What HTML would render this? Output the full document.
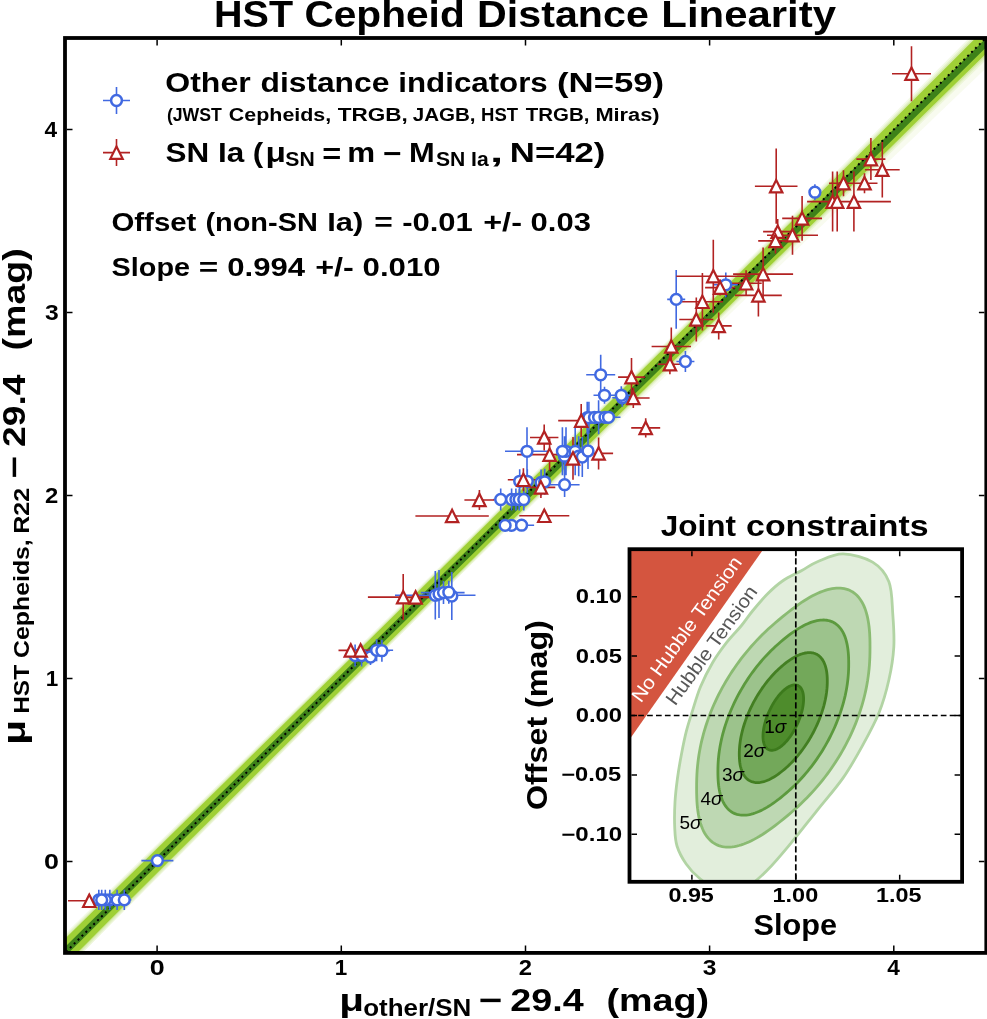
<!DOCTYPE html><html><head><meta charset="utf-8"><style>html,body{margin:0;padding:0;background:#fff;overflow:hidden}svg{display:block;will-change:transform}</style></head><body><svg width="987" height="1019" viewBox="0 0 987 1019" font-family='"Liberation Sans", sans-serif'>
<defs><clipPath id="pc"><rect x="65" y="38" width="921.3" height="914.9"/></clipPath><clipPath id="ic"><rect x="629.5" y="549.2" width="332.6" height="332.6"/></clipPath></defs>
<rect width="987" height="1019" fill="#fff"/>
<g clip-path="url(#pc)">
<path d="M64.21 971.20L87.85 947.41L111.51 923.62L135.18 899.84L158.87 876.05L182.58 852.26L206.30 828.47L230.04 804.69L253.81 780.90L277.59 757.11L301.40 733.32L325.23 709.54L349.09 685.75L372.97 661.96L396.88 638.17L420.81 614.39L444.78 590.60L468.80 566.81L493.23 543.02L517.68 519.24L542.17 495.45L566.68 471.66L591.22 447.88L615.79 424.09L640.39 400.30L665.01 376.51L689.66 352.73L714.33 328.94L739.03 305.15L763.75 281.36L788.49 257.58L813.25 233.79L838.03 210.00L862.83 186.21L887.65 162.43L912.48 138.64L937.33 114.85L962.19 91.06L987.07 67.28L1011.96 43.49L1036.86 19.70L994.02 19.70L970.19 43.49L946.35 67.28L922.50 91.06L898.65 114.85L874.79 138.64L850.92 162.43L827.03 186.21L803.14 210.00L779.24 233.79L755.32 257.58L731.40 281.36L707.46 305.15L683.51 328.94L659.54 352.73L635.57 376.51L611.58 400.30L587.58 424.09L563.56 447.88L539.53 471.66L515.49 495.45L491.43 519.24L467.36 543.02L443.28 566.81L419.18 590.60L395.07 614.39L370.94 638.17L346.81 661.96L322.66 685.75L298.50 709.54L274.32 733.32L250.14 757.11L225.94 780.90L201.73 804.69L177.52 828.47L153.29 852.26L129.05 876.05L104.80 899.84L80.55 923.62L56.29 947.41L32.02 971.20Z" fill="#96cb23" fill-opacity="0.07"/>
<path d="M64.21 971.20L87.85 947.41L111.51 923.62L135.18 899.84L158.87 876.05L182.58 852.26L206.30 828.47L230.04 804.69L253.81 780.90L277.59 757.11L301.40 733.32L325.23 709.54L349.09 685.75L372.97 661.96L396.88 638.17L420.81 614.39L444.78 590.60L468.77 566.81L492.79 543.02L516.84 519.24L540.92 495.45L565.03 471.66L589.17 447.88L613.34 424.09L637.53 400.30L661.75 376.51L686.00 352.73L710.27 328.94L734.56 305.15L758.88 281.36L783.21 257.58L807.57 233.79L831.95 210.00L856.35 186.21L880.76 162.43L905.19 138.64L929.63 114.85L954.09 91.06L978.57 67.28L1003.05 43.49L1027.55 19.70L987.23 19.70L963.63 43.49L940.01 67.28L916.39 91.06L892.75 114.85L869.09 138.64L845.42 162.43L821.73 186.21L798.03 210.00L774.31 233.79L750.57 257.58L726.80 281.36L703.02 305.15L679.21 328.94L655.38 352.73L631.53 376.51L607.65 400.30L583.74 424.09L559.81 447.88L535.85 471.66L511.86 495.45L487.84 519.24L463.79 543.02L439.71 566.81L415.60 590.60L391.47 614.39L367.30 638.17L343.11 661.96L318.89 685.75L294.65 709.54L270.38 733.32L246.09 757.11L221.77 780.90L197.44 804.69L173.08 828.47L148.70 852.26L124.31 876.05L99.90 899.84L75.47 923.62L51.03 947.41L26.57 971.20Z" fill="#96cb23" fill-opacity="0.11"/>
<path d="M62.12 971.20L85.83 947.41L109.54 923.62L133.27 899.84L157.01 876.05L180.77 852.26L204.54 828.47L228.33 804.69L252.13 780.90L275.96 757.11L299.80 733.32L323.66 709.54L347.54 685.75L371.44 661.96L395.37 638.17L419.32 614.39L443.29 590.60L467.28 566.81L491.30 543.02L515.34 519.24L539.41 495.45L563.50 471.66L587.61 447.88L611.75 424.09L635.91 400.30L660.09 376.51L684.29 352.73L708.52 328.94L732.76 305.15L757.03 281.36L781.31 257.58L805.61 233.79L829.93 210.00L854.26 186.21L878.61 162.43L902.97 138.64L927.34 114.85L951.73 91.06L976.13 67.28L1000.54 43.49L1024.96 19.70L989.82 19.70L966.14 43.49L942.45 67.28L918.75 91.06L895.04 114.85L871.31 138.64L847.57 162.43L823.82 186.21L800.05 210.00L776.27 233.79L752.47 257.58L728.65 281.36L704.82 305.15L680.96 328.94L657.09 352.73L633.19 376.51L609.27 400.30L585.33 424.09L561.37 447.88L537.38 471.66L513.37 495.45L489.34 519.24L465.28 543.02L441.20 566.81L417.09 590.60L392.96 614.39L368.81 638.17L344.64 661.96L320.44 685.75L296.22 709.54L271.98 733.32L247.72 757.11L223.45 780.90L199.15 804.69L174.84 828.47L150.51 852.26L126.17 876.05L101.81 899.84L77.44 923.62L53.05 947.41L28.66 971.20Z" fill="#96cb23" fill-opacity="0.14"/>
<path d="M60.39 971.20L84.16 947.41L107.95 923.62L131.74 899.84L155.55 876.05L179.36 852.26L203.19 828.47L227.04 804.69L250.89 780.90L274.76 757.11L298.64 733.32L322.54 709.54L346.46 685.75L370.39 661.96L394.34 638.17L418.30 614.39L442.28 590.60L466.29 566.81L490.30 543.02L514.34 519.24L538.40 495.45L562.47 471.66L586.56 447.88L610.67 424.09L634.80 400.30L658.94 376.51L683.10 352.73L707.28 328.94L731.47 305.15L755.68 281.36L779.91 257.58L804.14 233.79L828.40 210.00L852.66 186.21L876.94 162.43L901.23 138.64L925.53 114.85L949.84 91.06L974.16 67.28L998.49 43.49L1022.83 19.70L991.95 19.70L968.19 43.49L944.42 67.28L920.64 91.06L896.85 114.85L873.05 138.64L849.24 162.43L825.42 186.21L801.58 210.00L777.74 233.79L753.87 257.58L730.00 281.36L706.11 305.15L682.20 328.94L658.28 352.73L634.34 376.51L610.38 400.30L586.41 424.09L562.42 447.88L538.41 471.66L514.38 495.45L490.34 519.24L466.28 543.02L442.19 566.81L418.10 590.60L393.98 614.39L369.84 638.17L345.69 661.96L321.52 685.75L297.34 709.54L273.14 733.32L248.92 757.11L224.69 780.90L200.44 804.69L176.19 828.47L151.92 852.26L127.63 876.05L103.34 899.84L79.03 923.62L54.72 947.41L30.39 971.20Z" fill="#96cb23" fill-opacity="0.17"/>
<path d="M58.76 971.20L82.59 947.41L106.43 923.62L130.28 899.84L154.13 876.05L177.99 852.26L201.86 828.47L225.75 804.69L249.64 780.90L273.54 757.11L297.46 733.32L321.38 709.54L345.32 685.75L369.27 661.96L393.24 638.17L417.21 614.39L441.20 590.60L465.20 566.81L489.22 543.02L513.25 519.24L537.29 495.45L561.35 471.66L585.42 447.88L609.50 424.09L633.60 400.30L657.71 376.51L681.84 352.73L705.97 328.94L730.12 305.15L754.28 281.36L778.46 257.58L802.64 233.79L826.84 210.00L851.05 186.21L875.26 162.43L899.49 138.64L923.73 114.85L947.98 91.06L972.23 67.28L996.49 43.49L1020.76 19.70L994.02 19.70L970.19 43.49L946.35 67.28L922.50 91.06L898.65 114.85L874.79 138.64L850.92 162.43L827.03 186.21L803.14 210.00L779.24 233.79L755.32 257.58L731.40 281.36L707.46 305.15L683.51 328.94L659.54 352.73L635.57 376.51L611.58 400.30L587.58 424.09L563.56 447.88L539.53 471.66L515.49 495.45L491.43 519.24L467.36 543.02L443.28 566.81L419.18 590.60L395.07 614.39L370.94 638.17L346.81 661.96L322.66 685.75L298.50 709.54L274.32 733.32L250.14 757.11L225.94 780.90L201.73 804.69L177.52 828.47L153.29 852.26L129.05 876.05L104.80 899.84L80.55 923.62L56.29 947.41L32.02 971.20Z" fill="#96cb23" fill-opacity="0.85"/>
<path d="M49.94 971.20L74.04 947.41L98.15 923.62L122.25 899.84L146.36 876.05L170.46 852.26L194.57 828.47L218.67 804.69L242.77 780.90L266.88 757.11L290.98 733.32L315.09 709.54L339.19 685.75L363.30 661.96L387.40 638.17L411.51 614.39L435.61 590.60L459.72 566.81L483.82 543.02L507.93 519.24L532.03 495.45L556.13 471.66L580.24 447.88L604.34 424.09L628.45 400.30L652.55 376.51L676.66 352.73L700.76 328.94L724.87 305.15L748.97 281.36L773.08 257.58L797.18 233.79L821.29 210.00L845.39 186.21L869.49 162.43L893.60 138.64L917.70 114.85L941.81 91.06L965.91 67.28L990.02 43.49L1014.12 19.70L1004.72 19.70L980.62 43.49L956.51 67.28L932.41 91.06L908.30 114.85L884.20 138.64L860.09 162.43L835.99 186.21L811.89 210.00L787.78 233.79L763.68 257.58L739.57 281.36L715.47 305.15L691.36 328.94L667.26 352.73L643.15 376.51L619.05 400.30L594.94 424.09L570.84 447.88L546.73 471.66L522.63 495.45L498.53 519.24L474.42 543.02L450.32 566.81L426.21 590.60L402.11 614.39L378.00 638.17L353.90 661.96L329.79 685.75L305.69 709.54L281.58 733.32L257.48 757.11L233.37 780.90L209.27 804.69L185.17 828.47L161.06 852.26L136.96 876.05L112.85 899.84L88.75 923.62L64.64 947.41L40.54 971.20Z" fill="#3e8219"/>
<line x1="46.58" y1="971.20" x2="1004.32" y2="19.70" stroke="#000" stroke-width="2" stroke-dasharray="2 3.5"/>
<path d="M141.4 860.6H173.4M104.8 899.9H114.8M109.8 889.7V910.1M93.8 899.9H103.8M98.8 889.7V910.1M100.3 899.9H110.3M105.3 889.7V910.1M96.7 899.9H106.7M101.7 889.7V910.1M112.1 899.9H122.1M117.1 889.7V910.1M117.3 899.9H131.3M124.3 889.7V910.1M349.1 655.5H361.1M355.1 644.5V666.5M355.6 655.5H367.6M361.6 644.5V666.5M364.5 657.0H376.5M370.5 649.0V665.0M360.1 650.3H393.1M376.6 639.3V661.3M373.9 650.7H389.9M381.9 639.7V661.7M395.0 595.3H475.5M435.3 571.0V619.6M431.0 594.0H447.0M439.0 570.0V618.0M420.8 592.6H464.6M443.5 581.0V604.0M445.8 596.0H457.8M451.8 572.0V620.0M442.8 592.2H454.8M448.8 580.7V603.7M493.2 499.5H508.2M500.7 488.5V510.5M506.6 499.5H516.6M511.6 488.5V510.5M510.9 499.5H520.9M515.9 488.5V510.5M514.2 499.5H524.2M519.2 488.5V510.5M518.8 499.5H528.8M523.8 488.5V510.5M507.6 525.4H515.6M501.1 525.4H509.1M509.1 525.2H534.1M513.7 481.3H525.7M519.7 469.3V493.3M521.3 481.3H533.3M527.3 469.3V493.3M505.0 451.3H549.0M527.0 427.3V475.3M535.1 482.5H547.1M541.1 469.5V495.5M538.7 481.8H550.7M544.7 468.8V494.8M549.6 484.7H579.6M564.6 472.4V497.0M558.5 456.2H570.5M564.5 436.2V476.2M560.0 451.3H572.0M566.0 427.3V475.3M556.4 451.3H568.4M562.4 427.3V475.3M569.2 451.3H581.2M575.2 427.3V475.3M572.7 456.2H584.7M578.7 436.2V476.2M576.3 457.0H588.3M582.3 437.0V477.0M582.0 451.0H594.0M588.0 433.0V469.0M581.2 417.7H593.2M587.2 401.7V433.7M582.9 417.7H594.9M588.9 401.7V433.7M588.5 417.5H600.5M594.5 412.5V422.5M592.6 417.3H604.6M598.6 400.3V434.3M599.0 417.3H611.0M605.0 414.3V420.3M596.5 417.3H620.5M608.5 414.3V420.3M586.2 374.8H615.2M600.7 354.8V394.8M593.5 395.3H615.5M604.5 386.8V403.8M612.3 397.8H632.3M622.3 388.8V406.8M606.3 395.3H636.3M621.3 386.3V404.3M676.4 361.5H694.4M685.4 351.0V372.0M667.2 299.4H685.2M676.2 270.0V328.8M713.8 284.8H737.8M725.8 272.4V297.2M814.9 184.2V200.2" stroke="#4169e1" stroke-width="1.6" fill="none"/>
<path d="M68.0 900.8H110.6M89.3 897.8V903.8M338.5 650.4H363.1M350.8 647.4V653.4M348.6 650.4H372.6M360.6 647.4V653.4M367.9 597.1H438.5M403.2 574.1V620.1M401.1 597.4H430.1M415.6 593.4V601.4M415.4 516.0H488.8M452.1 513.0V519.0M464.4 500.0H494.4M479.4 490.0V510.0M507.8 479.8H539.0M523.4 468.3V491.3M530.0 437.5H558.4M544.2 424.5V450.5M517.0 454.6H582.2M549.6 438.6V470.6M526.5 487.4H555.3M540.9 476.8V498.0M519.3 515.8H569.3M544.3 512.8V518.8M563.0 458.4H583.0M573.0 437.1V479.7M584.1 453.4H613.1M598.6 437.4V469.4M558.2 420.6H604.2M581.2 404.1V437.1M618.1 377.1H644.9M631.5 358.1V396.1M617.0 398.0H649.6M633.3 388.0V408.0M631.2 427.9H660.2M645.7 418.3V437.5M651.6 346.5H691.0M671.3 327.5V365.5M657.9 364.2H681.9M669.9 354.2V374.2M681.9 301.8H722.9M702.4 273.1V330.5M679.3 319.5H713.3M696.3 297.5V341.5M705.7 325.9H731.7M718.7 312.4V339.4M676.3 276.2H750.3M713.3 239.7V312.7M705.1 287.6H735.1M720.1 279.6V295.6M730.5 283.3H761.7M746.1 270.3V296.3M733.1 274.1H793.1M763.1 247.5V300.7M735.0 295.4H781.8M758.4 274.4V316.4M754.9 186.2H797.5M776.2 148.6V223.8M763.1 231.6H792.3M777.7 218.9V244.3M758.2 240.9H792.8M775.5 228.2V253.6M767.0 235.2H818.0M792.5 215.7V254.7M782.2 218.4H822.0M802.1 196.1V240.7M807.1 201.6H858.1M832.6 171.6V231.6M827.2 201.6H847.2M837.2 171.6V231.6M816.9 201.6H890.9M853.9 171.6V231.6M829.0 183.2H858.0M843.5 170.2V196.2M851.5 183.2H877.5M864.5 173.2V193.2M856.4 159.1H885.4M870.9 138.1V180.1M864.9 169.7H899.7M882.3 142.0V197.4M892.0 73.7H931.0M911.5 46.2V101.2" stroke="#b22222" stroke-width="1.6" fill="none"/>
<g fill="#fff" stroke="#4169e1" stroke-width="2.5" stroke-linejoin="miter"><circle cx="157.4" cy="860.6" r="5.4"/><circle cx="109.8" cy="899.9" r="5.4"/><circle cx="98.8" cy="899.9" r="5.4"/><circle cx="105.3" cy="899.9" r="5.4"/><circle cx="101.7" cy="899.9" r="5.4"/><circle cx="117.1" cy="899.9" r="5.4"/><circle cx="124.3" cy="899.9" r="5.4"/><circle cx="355.1" cy="655.5" r="5.4"/><circle cx="361.6" cy="655.5" r="5.4"/><circle cx="370.5" cy="657.0" r="5.4"/><circle cx="376.6" cy="650.3" r="5.4"/><circle cx="381.9" cy="650.7" r="5.4"/><circle cx="435.3" cy="595.3" r="5.4"/><circle cx="439.0" cy="594.0" r="5.4"/><circle cx="443.5" cy="592.6" r="5.4"/><circle cx="451.8" cy="596.0" r="5.4"/><circle cx="448.8" cy="592.2" r="5.4"/><circle cx="500.7" cy="499.5" r="5.4"/><circle cx="511.6" cy="499.5" r="5.4"/><circle cx="515.9" cy="499.5" r="5.4"/><circle cx="519.2" cy="499.5" r="5.4"/><circle cx="523.8" cy="499.5" r="5.4"/><circle cx="511.6" cy="525.4" r="5.4"/><circle cx="505.1" cy="525.4" r="5.4"/><circle cx="521.6" cy="525.2" r="5.4"/><circle cx="519.7" cy="481.3" r="5.4"/><circle cx="527.3" cy="481.3" r="5.4"/><circle cx="527.0" cy="451.3" r="5.4"/><circle cx="541.1" cy="482.5" r="5.4"/><circle cx="544.7" cy="481.8" r="5.4"/><circle cx="564.6" cy="484.7" r="5.4"/><circle cx="564.5" cy="456.2" r="5.4"/><circle cx="566.0" cy="451.3" r="5.4"/><circle cx="562.4" cy="451.3" r="5.4"/><circle cx="575.2" cy="451.3" r="5.4"/><circle cx="578.7" cy="456.2" r="5.4"/><circle cx="582.3" cy="457.0" r="5.4"/><circle cx="588.0" cy="451.0" r="5.4"/><circle cx="587.2" cy="417.7" r="5.4"/><circle cx="588.9" cy="417.7" r="5.4"/><circle cx="594.5" cy="417.5" r="5.4"/><circle cx="598.6" cy="417.3" r="5.4"/><circle cx="605.0" cy="417.3" r="5.4"/><circle cx="608.5" cy="417.3" r="5.4"/><circle cx="600.7" cy="374.8" r="5.4"/><circle cx="604.5" cy="395.3" r="5.4"/><circle cx="622.3" cy="397.8" r="5.4"/><circle cx="621.3" cy="395.3" r="5.4"/><circle cx="685.4" cy="361.5" r="5.4"/><circle cx="676.2" cy="299.4" r="5.4"/><circle cx="725.8" cy="284.8" r="5.4"/><circle cx="814.9" cy="192.2" r="5.4"/></g>
<g fill="#fff" stroke="#b22222" stroke-width="2.2" stroke-linejoin="miter"><path d="M89.3 894.6L83.1 907.0H95.5Z"/><path d="M350.8 644.2L344.6 656.6H357.0Z"/><path d="M360.6 644.2L354.4 656.6H366.8Z"/><path d="M403.2 590.9L397.0 603.3H409.4Z"/><path d="M415.6 591.2L409.4 603.6H421.8Z"/><path d="M452.1 509.8L445.9 522.2H458.3Z"/><path d="M479.4 493.8L473.2 506.2H485.6Z"/><path d="M523.4 473.6L517.2 486.0H529.6Z"/><path d="M544.2 431.3L538.0 443.7H550.4Z"/><path d="M549.6 448.4L543.4 460.8H555.8Z"/><path d="M540.9 481.2L534.7 493.6H547.1Z"/><path d="M544.3 509.6L538.1 522.0H550.5Z"/><path d="M573.0 452.2L566.8 464.6H579.2Z"/><path d="M598.6 447.2L592.4 459.6H604.8Z"/><path d="M581.2 414.4L575.0 426.8H587.4Z"/><path d="M631.5 370.9L625.3 383.3H637.7Z"/><path d="M633.3 391.8L627.1 404.2H639.5Z"/><path d="M645.7 421.7L639.5 434.1H651.9Z"/><path d="M671.3 340.3L665.1 352.7H677.5Z"/><path d="M669.9 358.0L663.7 370.4H676.1Z"/><path d="M702.4 295.6L696.2 308.0H708.6Z"/><path d="M696.3 313.3L690.1 325.7H702.5Z"/><path d="M718.7 319.7L712.5 332.1H724.9Z"/><path d="M713.3 270.0L707.1 282.4H719.5Z"/><path d="M720.1 281.4L713.9 293.8H726.3Z"/><path d="M746.1 277.1L739.9 289.5H752.3Z"/><path d="M763.1 267.9L756.9 280.3H769.3Z"/><path d="M758.4 289.2L752.2 301.6H764.6Z"/><path d="M776.2 180.0L770.0 192.4H782.4Z"/><path d="M777.7 225.4L771.5 237.8H783.9Z"/><path d="M775.5 234.7L769.3 247.1H781.7Z"/><path d="M792.5 229.0L786.3 241.4H798.7Z"/><path d="M802.1 212.2L795.9 224.6H808.3Z"/><path d="M832.6 195.4L826.4 207.8H838.8Z"/><path d="M837.2 195.4L831.0 207.8H843.4Z"/><path d="M853.9 195.4L847.7 207.8H860.1Z"/><path d="M843.5 177.0L837.3 189.4H849.7Z"/><path d="M864.5 177.0L858.3 189.4H870.7Z"/><path d="M870.9 152.9L864.7 165.3H877.1Z"/><path d="M882.3 163.5L876.1 175.9H888.5Z"/><path d="M911.5 67.5L905.3 79.9H917.7Z"/></g>
</g>
<path d="M103 100.5H130M116.5 87V114" stroke="#4169e1" stroke-width="1.6"/><circle cx="116.5" cy="100.5" r="5.4" fill="#fff" stroke="#4169e1" stroke-width="2.5"/>
<path d="M103 152.6H130M116.5 139V166" stroke="#b22222" stroke-width="1.6"/><path d="M116.5 146.4L110.3 158.79999999999998H122.7Z" fill="#fff" stroke="#b22222" stroke-width="2.2"/>
<text x="165.30" y="92.2" font-size="27.8" font-weight="bold" textLength="85.42" lengthAdjust="spacingAndGlyphs">Other</text>
<text x="260.50" y="92.2" font-size="27.8" font-weight="bold" textLength="128.83" lengthAdjust="spacingAndGlyphs">distance</text>
<text x="398.30" y="92.2" font-size="27.8" font-weight="bold" textLength="149.47" lengthAdjust="spacingAndGlyphs">indicators</text>
<text x="557.00" y="92.2" font-size="27.8" font-weight="bold" textLength="107.13" lengthAdjust="spacingAndGlyphs">(N=59)</text>
<text x="166.90" y="120.5" font-size="18.7" font-weight="bold" textLength="55.02" lengthAdjust="spacingAndGlyphs">(JWST</text>
<text x="228.80" y="120.5" font-size="18.7" font-weight="bold" textLength="102.45" lengthAdjust="spacingAndGlyphs">Cepheids,</text>
<text x="337.80" y="120.5" font-size="18.7" font-weight="bold" textLength="70.04" lengthAdjust="spacingAndGlyphs">TRGB,</text>
<text x="412.70" y="120.5" font-size="18.7" font-weight="bold" textLength="62.90" lengthAdjust="spacingAndGlyphs">JAGB,</text>
<text x="481.10" y="120.5" font-size="18.7" font-weight="bold" textLength="37.04" lengthAdjust="spacingAndGlyphs">HST</text>
<text x="525.80" y="120.5" font-size="18.7" font-weight="bold" textLength="63.63" lengthAdjust="spacingAndGlyphs">TRGB,</text>
<text x="595.40" y="120.5" font-size="18.7" font-weight="bold" textLength="64.24" lengthAdjust="spacingAndGlyphs">Miras)</text>
<text x="165.50" y="161.8" font-size="27.8" font-weight="bold" textLength="97.82" lengthAdjust="spacingAndGlyphs">SN Ia (</text>
<text x="265.50" y="161.8" font-size="27.8" font-weight="bold" textLength="20.46" lengthAdjust="spacingAndGlyphs">μ</text>
<text x="347.30" y="161.8" font-size="27.8" font-weight="bold" textLength="27.89" lengthAdjust="spacingAndGlyphs">m</text>
<text x="409.10" y="161.8" font-size="27.8" font-weight="bold" textLength="25.72" lengthAdjust="spacingAndGlyphs">M</text>
<text x="490.10" y="161.8" font-size="27.8" font-weight="bold" textLength="13.19" lengthAdjust="spacingAndGlyphs">,</text>
<text x="509.80" y="161.8" font-size="27.8" font-weight="bold" textLength="95.56" lengthAdjust="spacingAndGlyphs">N=42)</text>
<text x="322.30" y="163.4" font-size="27.8" font-weight="bold" textLength="19.00" lengthAdjust="spacingAndGlyphs">=</text>
<text x="383.00" y="163.2" font-size="27.8" font-weight="bold" textLength="18.54" lengthAdjust="spacingAndGlyphs">−</text>
<text x="285.30" y="166.0" font-size="20.3" font-weight="bold" textLength="29.39" lengthAdjust="spacingAndGlyphs">SN</text>
<text x="435.90" y="166.0" font-size="20.3" font-weight="bold" textLength="52.82" lengthAdjust="spacingAndGlyphs">SN Ia</text>
<text x="111.40" y="230.9" font-size="25.7" font-weight="bold" textLength="85.03" lengthAdjust="spacingAndGlyphs">Offset</text>
<text x="205.40" y="230.9" font-size="25.7" font-weight="bold" textLength="112.47" lengthAdjust="spacingAndGlyphs">(non-SN</text>
<text x="327.20" y="230.9" font-size="25.7" font-weight="bold" textLength="35.98" lengthAdjust="spacingAndGlyphs">Ia)</text>
<text x="374.20" y="230.9" font-size="25.7" font-weight="bold" textLength="18.55" lengthAdjust="spacingAndGlyphs">=</text>
<text x="402.20" y="230.9" font-size="25.7" font-weight="bold" textLength="70.65" lengthAdjust="spacingAndGlyphs">-0.01</text>
<text x="483.20" y="230.9" font-size="25.7" font-weight="bold" textLength="38.76" lengthAdjust="spacingAndGlyphs">+/-</text>
<text x="530.60" y="230.9" font-size="25.7" font-weight="bold" textLength="60.28" lengthAdjust="spacingAndGlyphs">0.03</text>
<text x="111.60" y="276.0" font-size="25.7" font-weight="bold" textLength="78.47" lengthAdjust="spacingAndGlyphs">Slope</text>
<text x="198.70" y="276.0" font-size="25.7" font-weight="bold" textLength="19.52" lengthAdjust="spacingAndGlyphs">=</text>
<text x="227.30" y="276.0" font-size="25.7" font-weight="bold" textLength="77.83" lengthAdjust="spacingAndGlyphs">0.994</text>
<text x="315.20" y="276.0" font-size="25.7" font-weight="bold" textLength="38.69" lengthAdjust="spacingAndGlyphs">+/-</text>
<text x="362.60" y="276.0" font-size="25.7" font-weight="bold" textLength="78.05" lengthAdjust="spacingAndGlyphs">0.010</text>
<text x="214.10" y="26.5" font-size="37.6" font-weight="bold" textLength="78.96" lengthAdjust="spacingAndGlyphs">HST</text>
<text x="304.40" y="26.5" font-size="37.6" font-weight="bold" textLength="160.34" lengthAdjust="spacingAndGlyphs">Cepheid</text>
<text x="477.10" y="26.5" font-size="37.6" font-weight="bold" textLength="171.72" lengthAdjust="spacingAndGlyphs">Distance</text>
<text x="661.30" y="26.5" font-size="37.6" font-weight="bold" textLength="174.67" lengthAdjust="spacingAndGlyphs">Linearity</text>
<path d="M157.1 951V945.5M157.1 40V45.5M67 861.4H72.5M984.4 861.4H978.9M341.3 951V945.5M341.3 40V45.5M67 678.4H72.5M984.4 678.4H978.9M525.5 951V945.5M525.5 40V45.5M67 495.4H72.5M984.4 495.4H978.9M709.6 951V945.5M709.6 40V45.5M67 312.5H72.5M984.4 312.5H978.9M893.8 951V945.5M893.8 40V45.5M67 129.5H72.5M984.4 129.5H978.9" stroke="#000" stroke-width="1.5"/>
<rect x="65" y="38" width="921.3" height="914.9" fill="none" stroke="#000" stroke-width="3.8"/>
<text x="149.89" y="975.2" font-size="21.8" font-weight="bold" textLength="14.93" lengthAdjust="spacingAndGlyphs">0</text>
<text x="44.10" y="869.0" font-size="21.8" font-weight="bold" textLength="14.93" lengthAdjust="spacingAndGlyphs">0</text>
<text x="334.87" y="975.2" font-size="21.8" font-weight="bold" textLength="12.49" lengthAdjust="spacingAndGlyphs">1</text>
<text x="45.70" y="686.0" font-size="21.8" font-weight="bold" textLength="12.49" lengthAdjust="spacingAndGlyphs">1</text>
<text x="518.70" y="975.2" font-size="21.8" font-weight="bold" textLength="13.25" lengthAdjust="spacingAndGlyphs">2</text>
<text x="45.00" y="503.1" font-size="21.8" font-weight="bold" textLength="13.25" lengthAdjust="spacingAndGlyphs">2</text>
<text x="702.83" y="975.2" font-size="21.8" font-weight="bold" textLength="13.72" lengthAdjust="spacingAndGlyphs">3</text>
<text x="44.90" y="320.1" font-size="21.8" font-weight="bold" textLength="13.72" lengthAdjust="spacingAndGlyphs">3</text>
<text x="887.36" y="975.2" font-size="21.8" font-weight="bold" textLength="12.60" lengthAdjust="spacingAndGlyphs">4</text>
<text x="44.60" y="137.1" font-size="21.8" font-weight="bold" textLength="12.60" lengthAdjust="spacingAndGlyphs">4</text>
<text x="339.30" y="1011.0" font-size="31.9" font-weight="bold" textLength="24.77" lengthAdjust="spacingAndGlyphs">μ</text>
<text x="479.10" y="1011.0" font-size="31.9" font-weight="bold" textLength="23.59" lengthAdjust="spacingAndGlyphs">−</text>
<text x="510.30" y="1011.0" font-size="31.9" font-weight="bold" textLength="73.42" lengthAdjust="spacingAndGlyphs">29.4</text>
<text x="606.50" y="1011.0" font-size="31.9" font-weight="bold" textLength="102.55" lengthAdjust="spacingAndGlyphs">(mag)</text>
<text x="363.20" y="1016.0" font-size="23" font-weight="bold" textLength="108.09" lengthAdjust="spacingAndGlyphs">other/SN</text>
<g transform="rotate(-90)">
<text x="-744.70" y="24.5" font-size="31.9" font-weight="bold" textLength="24.77" lengthAdjust="spacingAndGlyphs">μ</text>
<text x="-478.30" y="24.5" font-size="31.9" font-weight="bold" textLength="22.67" lengthAdjust="spacingAndGlyphs">−</text>
<text x="-447.00" y="24.5" font-size="31.9" font-weight="bold" textLength="72.61" lengthAdjust="spacingAndGlyphs">29.4</text>
<text x="-350.40" y="24.5" font-size="31.9" font-weight="bold" textLength="102.17" lengthAdjust="spacingAndGlyphs">(mag)</text>
<text x="-713.80" y="29.4" font-size="22.5" font-weight="bold" textLength="48.89" lengthAdjust="spacingAndGlyphs">HST</text>
<text x="-657.90" y="29.4" font-size="22.5" font-weight="bold" textLength="118.67" lengthAdjust="spacingAndGlyphs">Cepheids,</text>
<text x="-533.70" y="29.4" font-size="22.5" font-weight="bold" textLength="45.80" lengthAdjust="spacingAndGlyphs">R22</text>
</g>
<rect x="629.5" y="549.2" width="332.6" height="332.6" fill="#fff"/>
<g clip-path="url(#ic)">
<path d="M629.5 549.2H763.3L629.5 739.4Z" fill="#d4553f"/>
<path d="M843.10 553.90C852.20 554.00 864.97 557.47 872.60 562.10C880.23 566.73 885.53 572.98 888.90 581.70C892.27 590.42 891.98 603.50 892.80 614.40C893.62 625.30 894.45 636.20 893.80 647.10C893.15 658.00 891.35 668.90 888.90 679.80C886.45 690.70 883.47 701.60 879.10 712.50C874.73 723.40 868.70 734.30 862.70 745.20C856.70 756.10 850.72 767.00 843.10 777.90C835.48 788.80 825.72 799.70 817.00 810.60C808.28 821.50 798.98 833.48 790.80 843.30C782.62 853.12 775.03 862.38 767.90 869.50C760.77 876.62 755.65 882.08 748.00 886.00C740.35 889.92 730.13 894.33 722.00 893.00C713.87 891.67 705.17 882.83 699.20 878.00C693.23 873.17 689.90 869.33 686.20 864.00C682.50 858.67 678.92 852.17 677.00 846.00C675.08 839.83 675.03 834.33 674.70 827.00C674.37 819.67 674.53 810.17 675.00 802.00C675.47 793.83 676.42 786.00 677.50 778.00C678.58 770.00 680.03 761.77 681.50 754.00C682.97 746.23 684.48 738.55 686.30 731.40C688.12 724.25 690.03 718.53 692.40 711.10C694.77 703.67 697.12 694.90 700.50 686.80C703.88 678.70 708.30 669.93 712.70 662.50C717.10 655.07 722.17 648.28 726.90 642.20C731.63 636.12 736.83 631.20 741.10 626.00C745.37 620.80 748.12 616.33 752.50 611.00C756.88 605.67 762.40 599.00 767.40 594.00C772.40 589.00 776.77 584.92 782.50 581.00C788.23 577.08 795.88 573.75 801.80 570.50C807.72 567.25 811.12 564.27 818.00 561.50C824.88 558.73 834.00 553.80 843.10 553.90Z" fill="#e2eedc" stroke="#b2d4a4" stroke-width="2.8"/>
<path d="M870.00 647.21L869.96 652.58L869.85 656.95L869.67 661.05L869.42 665.01L869.09 668.87L868.69 672.67L868.22 676.42L867.68 680.14L867.06 683.83L866.38 687.50L865.62 691.15L864.79 694.79L863.89 698.41L862.93 702.01L861.89 705.61L860.78 709.19L859.61 712.76L858.37 716.31L857.06 719.85L855.69 723.38L854.25 726.89L852.75 730.38L851.18 733.85L849.55 737.31L847.85 740.74L846.10 744.15L844.28 747.53L842.40 750.89L840.46 754.23L838.46 757.54L836.40 760.82L834.28 764.07L832.10 767.29L829.87 770.47L827.57 773.63L825.22 776.75L822.81 779.84L820.34 782.90L817.81 785.92L815.21 788.91L812.55 791.88L809.83 794.81L807.03 797.72L804.15 800.61L801.18 803.48L798.11 806.36L794.90 809.26L791.52 812.22L787.86 815.32L783.30 819.06L778.74 822.72L775.08 825.57L771.70 828.10L768.49 830.40L765.42 832.52L762.45 834.46L759.57 836.24L756.77 837.88L754.05 839.38L751.39 840.73L748.79 841.95L746.26 843.04L743.79 843.99L741.38 844.82L739.03 845.52L736.73 846.09L734.50 846.53L732.32 846.84L730.20 847.04L728.14 847.10L726.14 847.04L724.20 846.86L722.32 846.55L720.50 846.11L718.75 845.56L717.05 844.88L715.42 844.07L713.85 843.15L712.35 842.10L710.91 840.92L709.54 839.63L708.23 838.21L706.99 836.67L705.82 835.01L704.71 833.22L703.67 831.31L702.71 829.27L701.81 827.11L700.98 824.81L700.22 822.39L699.54 819.84L698.92 817.15L698.38 814.31L697.91 811.32L697.51 808.17L697.18 804.84L696.93 801.30L696.75 797.49L696.64 793.30L696.60 787.99L696.64 782.62L696.75 778.25L696.93 774.15L697.18 770.19L697.51 766.33L697.91 762.53L698.38 758.78L698.92 755.06L699.54 751.37L700.22 747.70L700.98 744.05L701.81 740.41L702.71 736.79L703.67 733.19L704.71 729.59L705.82 726.01L706.99 722.44L708.23 718.89L709.54 715.35L710.91 711.82L712.35 708.31L713.85 704.82L715.42 701.35L717.05 697.89L718.75 694.46L720.50 691.05L722.32 687.67L724.20 684.31L726.14 680.97L728.14 677.66L730.20 674.38L732.32 671.13L734.50 667.91L736.73 664.73L739.03 661.57L741.38 658.45L743.79 655.36L746.26 652.30L748.79 649.28L751.39 646.29L754.05 643.32L756.77 640.39L759.57 637.48L762.45 634.59L765.42 631.72L768.49 628.84L771.70 625.94L775.08 622.98L778.74 619.88L783.30 616.14L787.86 612.48L791.52 609.63L794.90 607.10L798.11 604.80L801.18 602.68L804.15 600.74L807.03 598.96L809.83 597.32L812.55 595.82L815.21 594.47L817.81 593.25L820.34 592.16L822.81 591.21L825.22 590.38L827.57 589.68L829.87 589.11L832.10 588.67L834.28 588.36L836.40 588.16L838.46 588.10L840.46 588.16L842.40 588.34L844.28 588.65L846.10 589.09L847.85 589.64L849.55 590.32L851.18 591.13L852.75 592.05L854.25 593.10L855.69 594.28L857.06 595.57L858.37 596.99L859.61 598.53L860.78 600.19L861.89 601.98L862.93 603.89L863.89 605.93L864.79 608.09L865.62 610.39L866.38 612.81L867.06 615.36L867.68 618.05L868.22 620.89L868.69 623.88L869.09 627.03L869.42 630.36L869.67 633.90L869.85 637.71L869.96 641.90Z" fill="#bed8b3" stroke="#8abb72" stroke-width="2.8"/>
<path d="M848.70 663.55L848.67 666.93L848.58 669.94L848.44 672.86L848.23 675.73L847.97 678.58L847.65 681.42L847.27 684.25L846.83 687.09L846.33 689.92L845.78 692.75L845.18 695.58L844.51 698.42L843.79 701.26L843.02 704.10L842.19 706.94L841.30 709.77L840.37 712.61L839.38 715.44L838.33 718.27L837.24 721.08L836.09 723.89L834.90 726.69L833.66 729.48L832.36 732.25L831.02 735.01L829.64 737.75L828.21 740.48L826.73 743.18L825.21 745.86L823.64 748.52L822.04 751.15L820.39 753.75L818.70 756.33L816.97 758.87L815.20 761.39L813.39 763.87L811.55 766.32L809.66 768.73L807.74 771.11L805.79 773.45L803.79 775.76L801.76 778.03L799.68 780.26L797.57 782.46L795.41 784.63L793.20 786.77L790.93 788.89L788.58 791.01L786.11 793.15L783.30 795.51L780.49 797.80L778.02 799.74L775.67 801.50L773.40 803.13L771.19 804.65L769.03 806.05L766.92 807.34L764.84 808.54L762.81 809.63L760.81 810.62L758.86 811.51L756.94 812.31L755.05 813.01L753.21 813.61L751.40 814.12L749.63 814.52L747.90 814.84L746.21 815.05L744.56 815.17L742.96 815.20L741.39 815.13L739.87 814.96L738.39 814.70L736.96 814.35L735.58 813.90L734.24 813.35L732.94 812.71L731.70 811.98L730.51 811.16L729.36 810.24L728.27 809.23L727.22 808.13L726.23 806.93L725.30 805.65L724.41 804.27L723.58 802.80L722.81 801.25L722.09 799.60L721.42 797.86L720.82 796.03L720.27 794.11L719.77 792.09L719.33 789.98L718.95 787.78L718.63 785.47L718.37 783.06L718.16 780.52L718.02 777.84L717.93 774.98L717.90 771.65L717.93 768.27L718.02 765.26L718.16 762.34L718.37 759.47L718.63 756.62L718.95 753.78L719.33 750.95L719.77 748.11L720.27 745.28L720.82 742.45L721.42 739.62L722.09 736.78L722.81 733.94L723.58 731.10L724.41 728.26L725.30 725.43L726.23 722.59L727.22 719.76L728.27 716.93L729.36 714.12L730.51 711.31L731.70 708.51L732.94 705.72L734.24 702.95L735.58 700.19L736.96 697.45L738.39 694.72L739.87 692.02L741.39 689.34L742.96 686.68L744.56 684.05L746.21 681.45L747.90 678.87L749.63 676.33L751.40 673.81L753.21 671.33L755.05 668.88L756.94 666.47L758.86 664.09L760.81 661.75L762.81 659.44L764.84 657.17L766.92 654.94L769.03 652.74L771.19 650.57L773.40 648.43L775.67 646.31L778.02 644.19L780.49 642.05L783.30 639.69L786.11 637.40L788.58 635.46L790.93 633.70L793.20 632.07L795.41 630.55L797.57 629.15L799.68 627.86L801.76 626.66L803.79 625.57L805.79 624.58L807.74 623.69L809.66 622.89L811.55 622.19L813.39 621.59L815.20 621.08L816.97 620.68L818.70 620.36L820.39 620.15L822.04 620.03L823.64 620.00L825.21 620.07L826.73 620.24L828.21 620.50L829.64 620.85L831.02 621.30L832.36 621.85L833.66 622.49L834.90 623.22L836.09 624.04L837.24 624.96L838.33 625.97L839.38 627.07L840.37 628.27L841.30 629.55L842.19 630.93L843.02 632.40L843.79 633.95L844.51 635.60L845.18 637.34L845.78 639.17L846.33 641.09L846.83 643.11L847.27 645.22L847.65 647.42L847.97 649.73L848.23 652.14L848.44 654.68L848.58 657.36L848.67 660.22Z" fill="#9cc38c" stroke="#5c9a3e" stroke-width="2.8"/>
<path d="M827.30 681.10L827.28 683.07L827.22 684.94L827.11 686.80L826.97 688.65L826.78 690.52L826.56 692.39L826.29 694.28L825.98 696.17L825.63 698.08L825.25 700.00L824.82 701.92L824.35 703.86L823.85 705.80L823.30 707.75L822.72 709.70L822.10 711.66L821.44 713.62L820.75 715.57L820.02 717.53L819.26 719.49L818.46 721.44L817.63 723.39L816.76 725.33L815.86 727.26L814.93 729.18L813.97 731.09L812.98 732.99L811.95 734.88L810.90 736.74L809.83 738.59L808.72 740.42L807.59 742.23L806.43 744.02L805.25 745.79L804.04 747.53L802.81 749.25L801.56 750.94L800.29 752.60L798.99 754.23L797.68 755.83L796.34 757.40L794.99 758.94L793.62 760.44L792.23 761.92L790.82 763.36L789.39 764.77L787.93 766.15L786.45 767.50L784.93 768.84L783.30 770.21L781.67 771.54L780.15 772.73L778.67 773.83L777.21 774.87L775.78 775.83L774.37 776.73L772.98 777.57L771.61 778.34L770.26 779.04L768.92 779.69L767.61 780.26L766.31 780.78L765.04 781.23L763.79 781.62L762.56 781.94L761.35 782.20L760.17 782.40L759.01 782.53L757.88 782.60L756.77 782.60L755.70 782.54L754.65 782.42L753.62 782.23L752.63 781.98L751.67 781.66L750.74 781.28L749.84 780.84L748.97 780.34L748.14 779.77L747.34 779.15L746.58 778.46L745.85 777.71L745.16 776.90L744.50 776.03L743.88 775.10L743.30 774.11L742.75 773.07L742.25 771.97L741.78 770.81L741.35 769.59L740.97 768.32L740.62 766.99L740.31 765.60L740.04 764.16L739.82 762.66L739.63 761.10L739.49 759.49L739.38 757.80L739.32 756.03L739.30 754.10L739.32 752.13L739.38 750.26L739.49 748.40L739.63 746.55L739.82 744.68L740.04 742.81L740.31 740.92L740.62 739.03L740.97 737.12L741.35 735.20L741.78 733.28L742.25 731.34L742.75 729.40L743.30 727.45L743.88 725.50L744.50 723.54L745.16 721.58L745.85 719.63L746.58 717.67L747.34 715.71L748.14 713.76L748.97 711.81L749.84 709.87L750.74 707.94L751.67 706.02L752.63 704.11L753.62 702.21L754.65 700.32L755.70 698.46L756.77 696.61L757.88 694.78L759.01 692.97L760.17 691.18L761.35 689.41L762.56 687.67L763.79 685.95L765.04 684.26L766.31 682.60L767.61 680.97L768.92 679.37L770.26 677.80L771.61 676.26L772.98 674.76L774.37 673.28L775.78 671.84L777.21 670.43L778.67 669.05L780.15 667.70L781.67 666.36L783.30 664.99L784.93 663.66L786.45 662.47L787.93 661.37L789.39 660.33L790.82 659.37L792.23 658.47L793.62 657.63L794.99 656.86L796.34 656.16L797.68 655.51L798.99 654.94L800.29 654.42L801.56 653.97L802.81 653.58L804.04 653.26L805.25 653.00L806.43 652.80L807.59 652.67L808.72 652.60L809.83 652.60L810.90 652.66L811.95 652.78L812.98 652.97L813.97 653.22L814.93 653.54L815.86 653.92L816.76 654.36L817.63 654.86L818.46 655.43L819.26 656.05L820.02 656.74L820.75 657.49L821.44 658.30L822.10 659.17L822.72 660.10L823.30 661.09L823.85 662.13L824.35 663.23L824.82 664.39L825.25 665.61L825.63 666.88L825.98 668.21L826.29 669.60L826.56 671.04L826.78 672.54L826.97 674.10L827.11 675.71L827.22 677.40L827.28 679.17Z" fill="#73a85a" stroke="#437f22" stroke-width="2.8"/>
<path d="M803.60 698.96L803.59 699.81L803.56 700.68L803.51 701.57L803.44 702.47L803.35 703.39L803.24 704.33L803.11 705.27L802.96 706.23L802.79 707.20L802.61 708.18L802.40 709.16L802.17 710.16L801.93 711.16L801.67 712.17L801.39 713.19L801.09 714.21L800.77 715.23L800.44 716.26L800.09 717.29L799.72 718.31L799.34 719.34L798.94 720.36L798.53 721.39L798.10 722.41L797.65 723.42L797.20 724.43L796.72 725.43L796.24 726.42L795.74 727.41L795.23 728.38L794.71 729.35L794.18 730.30L793.63 731.24L793.08 732.17L792.52 733.08L791.94 733.98L791.36 734.86L790.77 735.72L790.18 736.57L789.57 737.39L788.96 738.20L788.35 738.99L787.73 739.76L787.10 740.50L786.48 741.22L785.84 741.92L785.21 742.60L784.57 743.25L783.94 743.87L783.30 744.47L782.66 745.04L782.03 745.59L781.39 746.10L780.76 746.59L780.12 747.05L779.50 747.49L778.87 747.89L778.25 748.26L777.64 748.60L777.03 748.91L776.42 749.19L775.83 749.44L775.24 749.66L774.66 749.85L774.08 750.00L773.52 750.13L772.97 750.22L772.42 750.27L771.89 750.30L771.37 750.29L770.86 750.26L770.36 750.18L769.88 750.08L769.40 749.95L768.95 749.78L768.50 749.58L768.07 749.35L767.66 749.09L767.26 748.80L766.88 748.47L766.51 748.12L766.16 747.74L765.83 747.32L765.51 746.88L765.21 746.41L764.93 745.91L764.67 745.38L764.43 744.82L764.20 744.24L763.99 743.63L763.81 743.00L763.64 742.34L763.49 741.65L763.36 740.94L763.25 740.21L763.16 739.46L763.09 738.69L763.04 737.89L763.01 737.07L763.00 736.24L763.01 735.39L763.04 734.52L763.09 733.63L763.16 732.73L763.25 731.81L763.36 730.87L763.49 729.93L763.64 728.97L763.81 728.00L763.99 727.02L764.20 726.04L764.43 725.04L764.67 724.04L764.93 723.03L765.21 722.01L765.51 720.99L765.83 719.97L766.16 718.94L766.51 717.91L766.88 716.89L767.26 715.86L767.66 714.84L768.07 713.81L768.50 712.79L768.95 711.78L769.40 710.77L769.88 709.77L770.36 708.78L770.86 707.79L771.37 706.82L771.89 705.85L772.42 704.90L772.97 703.96L773.52 703.03L774.08 702.12L774.66 701.22L775.24 700.34L775.83 699.48L776.42 698.63L777.03 697.81L777.64 697.00L778.25 696.21L778.87 695.44L779.50 694.70L780.12 693.98L780.76 693.28L781.39 692.60L782.03 691.95L782.66 691.33L783.30 690.73L783.94 690.16L784.57 689.61L785.21 689.10L785.84 688.61L786.48 688.15L787.10 687.71L787.73 687.31L788.35 686.94L788.96 686.60L789.57 686.29L790.18 686.01L790.77 685.76L791.36 685.54L791.94 685.35L792.52 685.20L793.08 685.07L793.63 684.98L794.18 684.93L794.71 684.90L795.23 684.91L795.74 684.94L796.24 685.02L796.72 685.12L797.20 685.25L797.65 685.42L798.10 685.62L798.53 685.85L798.94 686.11L799.34 686.40L799.72 686.73L800.09 687.08L800.44 687.46L800.77 687.88L801.09 688.32L801.39 688.79L801.67 689.29L801.93 689.82L802.17 690.38L802.40 690.96L802.61 691.57L802.79 692.20L802.96 692.86L803.11 693.55L803.24 694.26L803.35 694.99L803.44 695.74L803.51 696.51L803.56 697.31L803.59 698.13Z" fill="#4e8c2c" stroke="#3c7a1c" stroke-width="2.8"/>
<line x1="795.8" y1="549.2" x2="795.8" y2="881.8" stroke="#000" stroke-width="1.7" stroke-dasharray="6.4 2.6"/>
<line x1="629.5" y1="715.5" x2="962.1" y2="715.5" stroke="#000" stroke-width="1.7" stroke-dasharray="5.7 3.2" stroke-dashoffset="0.2"/>
<g transform="translate(642.2,701.9) rotate(-54.2)"><text x="-2.00" y="0" font-size="19.3" font-weight="normal" textLength="174.05" lengthAdjust="spacingAndGlyphs" fill="#fff">No Hubble Tension</text></g>
<g transform="translate(676.5,705.0) rotate(-54.2)"><text x="-2.00" y="0" font-size="19.3" font-weight="normal" textLength="141.86" lengthAdjust="spacingAndGlyphs" fill="#575757">Hubble Tension</text></g>
<text x="775.3" y="732.5" font-size="19" text-anchor="middle">1<tspan font-style="italic">σ</tspan></text>
<text x="754.2" y="756.9" font-size="19" text-anchor="middle">2<tspan font-style="italic">σ</tspan></text>
<text x="733.0" y="780.7" font-size="19" text-anchor="middle">3<tspan font-style="italic">σ</tspan></text>
<text x="711.5" y="804.7" font-size="19" text-anchor="middle">4<tspan font-style="italic">σ</tspan></text>
<text x="690.5" y="828.8" font-size="19" text-anchor="middle">5<tspan font-style="italic">σ</tspan></text>
</g>
<path d="M691.9 879.8V874.8M691.9 551.2V556.2M795.8 879.8V874.8M795.8 551.2V556.2M899.7 879.8V874.8M899.7 551.2V556.2M631.5 834.3H637.0M960.1 834.3H954.6M631.5 774.9H637.0M960.1 774.9H954.6M631.5 715.5H637.0M960.1 715.5H954.6M631.5 656.1H637.0M960.1 656.1H954.6M631.5 596.7H637.0M960.1 596.7H954.6" stroke="#000" stroke-width="1.5"/>
<rect x="629.5" y="549.2" width="332.6" height="332.6" fill="none" stroke="#000" stroke-width="3.8"/>
<text x="668.40" y="902.2" font-size="19.5" font-weight="bold" textLength="45.48" lengthAdjust="spacingAndGlyphs">0.95</text>
<text x="772.50" y="902.2" font-size="19.5" font-weight="bold" textLength="45.68" lengthAdjust="spacingAndGlyphs">1.00</text>
<text x="876.00" y="902.2" font-size="19.5" font-weight="bold" textLength="45.48" lengthAdjust="spacingAndGlyphs">1.05</text>
<text x="575.70" y="603.2" font-size="19.5" font-weight="bold" textLength="46.26" lengthAdjust="spacingAndGlyphs">0.10</text>
<text x="575.70" y="662.6" font-size="19.5" font-weight="bold" textLength="46.26" lengthAdjust="spacingAndGlyphs">0.05</text>
<text x="575.70" y="722.0" font-size="19.5" font-weight="bold" textLength="46.26" lengthAdjust="spacingAndGlyphs">0.00</text>
<text x="561.30" y="781.4" font-size="19.5" font-weight="bold" textLength="59.84" lengthAdjust="spacingAndGlyphs">−0.05</text>
<text x="561.30" y="840.8" font-size="19.5" font-weight="bold" textLength="60.87" lengthAdjust="spacingAndGlyphs">−0.10</text>
<text x="660.80" y="535.9" font-size="28.8" font-weight="bold" textLength="75.22" lengthAdjust="spacingAndGlyphs">Joint</text>
<text x="746.10" y="535.9" font-size="28.8" font-weight="bold" textLength="182.43" lengthAdjust="spacingAndGlyphs">constraints</text>
<text x="753.60" y="935.2" font-size="29" font-weight="bold" textLength="83.44" lengthAdjust="spacingAndGlyphs">Slope</text>
<g transform="rotate(-90)"><text x="-810.00" y="546.9" font-size="29" font-weight="bold" textLength="189.83" lengthAdjust="spacingAndGlyphs">Offset (mag)</text></g>
</svg></body></html>
